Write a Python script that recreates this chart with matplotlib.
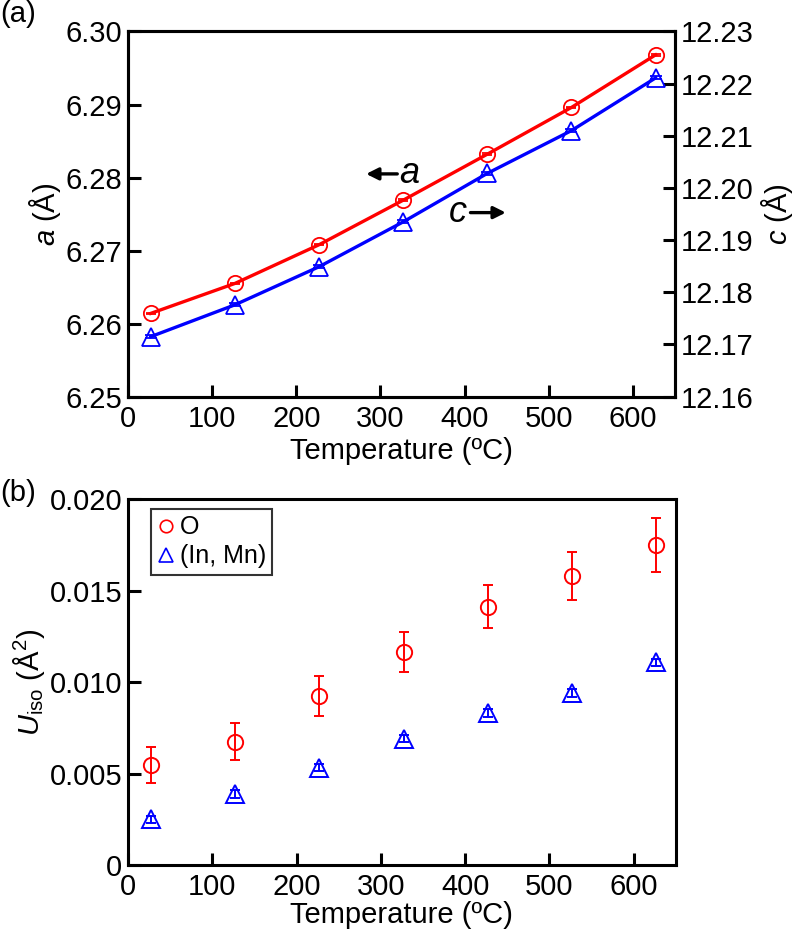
import matplotlib
matplotlib.use("Agg")
import matplotlib.pyplot as plt

plt.rcParams['font.family'] = ['Liberation Sans', 'DejaVu Sans']
plt.rcParams['mathtext.fontset'] = 'custom'
plt.rcParams['mathtext.rm'] = 'Liberation Sans'
plt.rcParams['mathtext.it'] = 'Liberation Sans:italic'

# ---- data ----
temperature = [27, 127, 227, 327, 427, 527, 627]
a_lat = [6.2614, 6.2655, 6.2708, 6.2769, 6.2832, 6.2896, 6.2968]
a_err = [0.0001, 0.0001, 0.0001, 0.0001, 0.0001, 0.0001, 0.0001]
c_lat = [12.1715, 12.1776, 12.1849, 12.1935, 12.2028, 12.2110, 12.2211]
c_err = [0.0003, 0.0003, 0.0003, 0.0003, 0.0003, 0.0003, 0.0003]
u_O = [0.00547, 0.00674, 0.00924, 0.01166, 0.01412, 0.01582, 0.01750]
u_O_err = [0.00101, 0.00100, 0.00110, 0.00110, 0.00118, 0.00130, 0.00150]
u_InMn = [0.00250, 0.00389, 0.00532, 0.00690, 0.00832, 0.00941, 0.01109]
u_InMn_err = [0.00020, 0.00020, 0.00020, 0.00020, 0.00020, 0.00020, 0.00020]

a_ticks = [6.25, 6.26, 6.27, 6.28, 6.29, 6.30]
c_ticks = [12.16, 12.17, 12.18, 12.19, 12.20, 12.21, 12.22, 12.23]
u_ticks = [0, 0.005, 0.010, 0.015, 0.020]
u_ticklabels = ['0', '0.005', '0.010', '0.015', '0.020']
x_ticks = [0, 100, 200, 300, 400, 500, 600]

RED = '#ff0000'
BLUE = '#0000ff'
FS = 21
SPW = 2.2

fig = plt.figure(figsize=(7.95, 9.34), dpi=100)

def style(ax, left=True, right=False):
    for s in ax.spines.values():
        s.set_linewidth(SPW)
    ax.tick_params(axis='both', direction='in', length=9, width=SPW,
                   labelsize=FS, top=False, right=right, left=left)

# ---- panel (a) ----
ax1 = fig.add_axes([0.161, 0.5753, 0.688, 0.391])
ax1.errorbar(temperature, a_lat, yerr=a_err, color=RED, lw=2.4, marker='o',
             ms=11, mfc='none', mec=RED, mew=1.3, capsize=3.5, elinewidth=1.3,
             capthick=1.3, zorder=3)
ax1.set_xlim(0, 650)
ax1.set_ylim(6.25, 6.30)
ax1.set_xticks(x_ticks)
ax1.set_yticks(a_ticks)
ax1.set_yticklabels([f'{v:.2f}' for v in a_ticks])
style(ax1)
ax1.tick_params(axis='y', pad=4)
ax1.tick_params(axis='x', pad=6)
ax1.set_xlabel('Temperature (ºC)', fontsize=FS, labelpad=3)
ax1.set_ylabel(r'$a$ (Å)', fontsize=FS, labelpad=2)

ax2 = ax1.twinx()
ax2.errorbar(temperature, c_lat, yerr=c_err, color=BLUE, lw=2.4, marker='^',
             ms=13, mfc='none', mec=BLUE, mew=1.3, capsize=4, elinewidth=1.3,
             capthick=1.3, zorder=3)
ax2.set_ylim(12.16, 12.23)
ax2.set_yticks(c_ticks)
ax2.set_yticklabels([f'{v:.2f}' for v in c_ticks])
for s in ax2.spines.values():
    s.set_linewidth(SPW)
ax2.tick_params(axis='y', direction='in', length=9, width=SPW, labelsize=FS, pad=4)
ax2.set_ylabel(r'$c$ (Å)', fontsize=FS, rotation=90, labelpad=4)

ax1.annotate('', xy=(283, 6.2805), xytext=(320, 6.2805),
             arrowprops=dict(arrowstyle='-|>', color='black', lw=2.4,
                             mutation_scale=18, shrinkA=0, shrinkB=0))
ax1.text(322, 6.2805, r'$a$', fontsize=26, va='center', ha='left')
ax1.text(404, 6.2752, r'$c$', fontsize=26, va='center', ha='right')
ax1.annotate('', xy=(449, 6.2752), xytext=(407, 6.2752),
             arrowprops=dict(arrowstyle='-|>', color='black', lw=2.4,
                             mutation_scale=18, shrinkA=0, shrinkB=0))

# ---- panel (b) ----
ax3 = fig.add_axes([0.161, 0.0739, 0.689, 0.3915])
ax3.errorbar(temperature, u_O, yerr=u_O_err, color=RED, ls='none', marker='o',
             ms=11, mfc='none', mec=RED, mew=1.4, capsize=3.7, elinewidth=1.4,
             capthick=1.4, label='O')
ax3.errorbar(temperature, u_InMn, yerr=u_InMn_err, color=BLUE, ls='none', marker='^',
             ms=13, mfc='none', mec=BLUE, mew=1.4, capsize=3.7, elinewidth=1.4,
             capthick=1.4, label='(In, Mn)')
ax3.set_xlim(0, 650)
ax3.set_ylim(0, 0.020)
ax3.set_xticks(x_ticks)
ax3.set_yticks(u_ticks)
ax3.set_yticklabels(u_ticklabels)
style(ax3)
ax3.tick_params(axis='y', pad=4)
ax3.tick_params(axis='x', pad=6)
ax3.set_xlabel('Temperature (ºC)', fontsize=FS, labelpad=0)
ax3.set_ylabel(r'$U_{\mathrm{iso}}$ (Å$^2$)', fontsize=FS, labelpad=2)

handles = [
    plt.Line2D([], [], ls='none', marker='o', ms=9, mfc='none', mec=RED, mew=1.2),
    plt.Line2D([], [], ls='none', marker='^', ms=10, mfc='none', mec=BLUE, mew=1.2),
]
leg = ax3.legend(handles, ['O', '(In, Mn)'], loc='upper left',
                 bbox_to_anchor=(0.042, 0.973), fontsize=18, frameon=True,
                 fancybox=False, edgecolor='black', handlelength=0.7,
                 handletextpad=0.2, borderpad=0.25, labelspacing=0.2,
                 borderaxespad=0)
leg.get_frame().set_linewidth(1.5)

fig.text(0.0, 1.0, '(a)', fontsize=FS, va='top', ha='left')
fig.text(0.0, 0.487, '(b)', fontsize=FS, va='top', ha='left')

fig.savefig('out.png', dpi=100)
